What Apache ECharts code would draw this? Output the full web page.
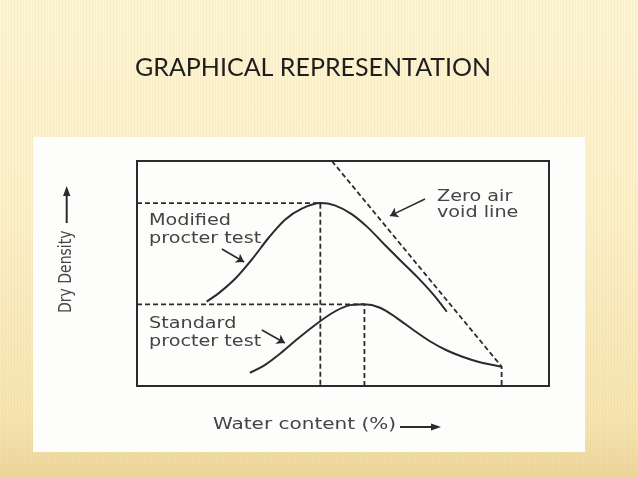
<!DOCTYPE html>
<html><head><meta charset="utf-8">
<script src="https://cdn.jsdelivr.net/npm/echarts/dist/echarts.min.js"></script>
<style>
html,body{margin:0;padding:0;}
body{width:638px;height:478px;overflow:hidden;background:
 repeating-linear-gradient(90deg, rgba(255,255,255,0) 0px, rgba(255,255,255,0) 2px, rgba(190,160,80,0.07) 2px, rgba(190,160,80,0.07) 3px),
 linear-gradient(180deg,#fdf4d3 0%,#fcf0c8 45%,#f6e4b0 88%,#ecd59c 100%);}
#c{width:638px;height:478px;}
</style></head>
<body><div id="c"></div>
<script>
// Modified Proctor compaction curve (water content %, dry density, relative units)
var modX = [16.9, 20, 24, 28, 32, 36, 40, 44.5, 48, 52, 56, 60, 64, 68, 72, 75.2];
var modY = [37.5, 41.5, 48, 56.5, 66, 74, 78.8, 81.3, 80.3, 76.5, 70.5, 63, 55.7, 48.5, 40.5, 33];
// Standard Proctor compaction curve
var stdX = [27.4, 31, 35, 39, 43, 47, 51, 55, 59, 63, 67, 71, 75, 79, 83, 88.5];
var stdY = [5.9, 9.3, 14.8, 21, 26.8, 32, 35.6, 36.3, 34.8, 30.3, 25, 20, 16, 13, 10.7, 8.6];
// Zero air void line
var zavX = [47.3, 88.5, 88.5];
var zavY = [100, 8.6, 0];
// Optimum guides (max dry density / optimum moisture content)
var modOpt = [44.5, 81.3];
var stdOpt = [55.2, 36.3];
// Annotation arrows [x1, y1, x2, y2]
var arrowZav = [69.9, 83.1, 61.4, 75.6];
var arrowMod = [20.6, 60.9, 26.0, 55.1];
var arrowStd = [30.3, 24.9, 35.9, 19.1];

function zip(a, b) { return a.map(function (v, i) { return [v, b[i]]; }); }
function arrow(a) { return [[{ coord: [a[0], a[1]] }, { coord: [a[2], a[3]] }]]; }

var LINE = '#2b2b2b';
var TXT = '#444';
var FONT = 'DejaVu Sans';

var chart = echarts.init(document.getElementById('c'), null, { renderer: 'canvas' });
chart.setOption({
  backgroundColor: 'transparent',
  animation: false,
  title: {
    text: 'GRAPHICAL REPRESENTATION',
    left: 130, top: 50,
    textStyle: { fontFamily: 'Lato', fontSize: 25, fontWeight: 'normal', color: '#1e1e1e' }
  },
  grid: { left: 137, right: 89, top: 161, bottom: 92, show: true, borderColor: LINE, borderWidth: 2, backgroundColor: 'transparent' },
  xAxis: { type: 'value', min: 0, max: 100, axisLine: { show: false }, axisTick: { show: false }, axisLabel: { show: false }, splitLine: { show: false } },
  yAxis: { type: 'value', min: 0, max: 100, axisLine: { show: false }, axisTick: { show: false }, axisLabel: { show: false }, splitLine: { show: false } },
  graphic: [
    { type: 'rect', z: -10, shape: { x: 33, y: 137, width: 552, height: 315 }, style: { fill: '#fdfdfc' } },
    { type: 'text', x: 149, y: 212, scaleX: 1.28, style: { text: 'Modified\nprocter test', fontSize: 15, fontFamily: FONT, fill: TXT, lineHeight: 18, verticalAlign: 'top', align: 'left' } },
    { type: 'text', x: 149, y: 315, scaleX: 1.28, style: { text: 'Standard\nprocter test', fontSize: 15, fontFamily: FONT, fill: TXT, lineHeight: 18, verticalAlign: 'top', align: 'left' } },
    { type: 'text', x: 437, y: 189, scaleX: 1.28, style: { text: 'Zero air\nvoid line', fontSize: 15, fontFamily: FONT, fill: TXT, lineHeight: 16, verticalAlign: 'top', align: 'left' } },
    { type: 'text', x: 213, y: 417, scaleX: 1.25, style: { text: 'Water content (%)', fontSize: 16, fontFamily: FONT, fill: TXT, verticalAlign: 'top', align: 'left' } },
    { type: 'line', shape: { x1: 400, y1: 427, x2: 434, y2: 427 }, style: { stroke: LINE, lineWidth: 2 } },
    { type: 'polygon', shape: { points: [[441, 427], [431, 423.5], [431, 430.5]] }, style: { fill: LINE } },
    { type: 'text', x: 66.5, y: 313, rotation: Math.PI / 2, scaleY: 1.2, style: { text: 'Dry Density', fontSize: 14, fontFamily: FONT, fill: TXT, verticalAlign: 'middle', align: 'left' } },
    { type: 'line', shape: { x1: 66.7, y1: 223, x2: 66.7, y2: 193 }, style: { stroke: LINE, lineWidth: 2 } },
    { type: 'polygon', shape: { points: [[66.7, 186], [63, 196], [70.4, 196]] }, style: { fill: LINE } }
  ],
  series: [
    {
      name: 'Modified procter test', type: 'line', data: zip(modX, modY), smooth: 0.3, symbol: 'none',
      lineStyle: { color: LINE, width: 2 },
      markLine: { silent: true, symbol: ['none', 'arrow'], symbolSize: 8, label: { show: false }, lineStyle: { color: LINE, width: 1.6, type: 'solid' }, data: arrow(arrowMod) }
    },
    {
      name: 'Standard procter test', type: 'line', data: zip(stdX, stdY), smooth: 0.3, symbol: 'none',
      lineStyle: { color: LINE, width: 2 },
      markLine: { silent: true, symbol: ['none', 'arrow'], symbolSize: 8, label: { show: false }, lineStyle: { color: LINE, width: 1.6, type: 'solid' }, data: arrow(arrowStd) }
    },
    {
      name: 'Zero air void line', type: 'line', data: zip(zavX, zavY), symbol: 'none',
      lineStyle: { color: LINE, width: 1.8, type: [5, 3] },
      markLine: { silent: true, symbol: ['none', 'arrow'], symbolSize: 8, label: { show: false }, lineStyle: { color: LINE, width: 1.6, type: 'solid' }, data: arrow(arrowZav) }
    },
    {
      name: 'Modified optimum', type: 'line', data: [[0, modOpt[1]], modOpt, [modOpt[0], 0]], symbol: 'none',
      lineStyle: { color: LINE, width: 1.8, type: [5, 3] }
    },
    {
      name: 'Standard optimum', type: 'line', data: [[0, stdOpt[1]], stdOpt, [stdOpt[0], 0]], symbol: 'none',
      lineStyle: { color: LINE, width: 1.8, type: [5, 3] }
    }
  ]
});
</script>
</body></html>
